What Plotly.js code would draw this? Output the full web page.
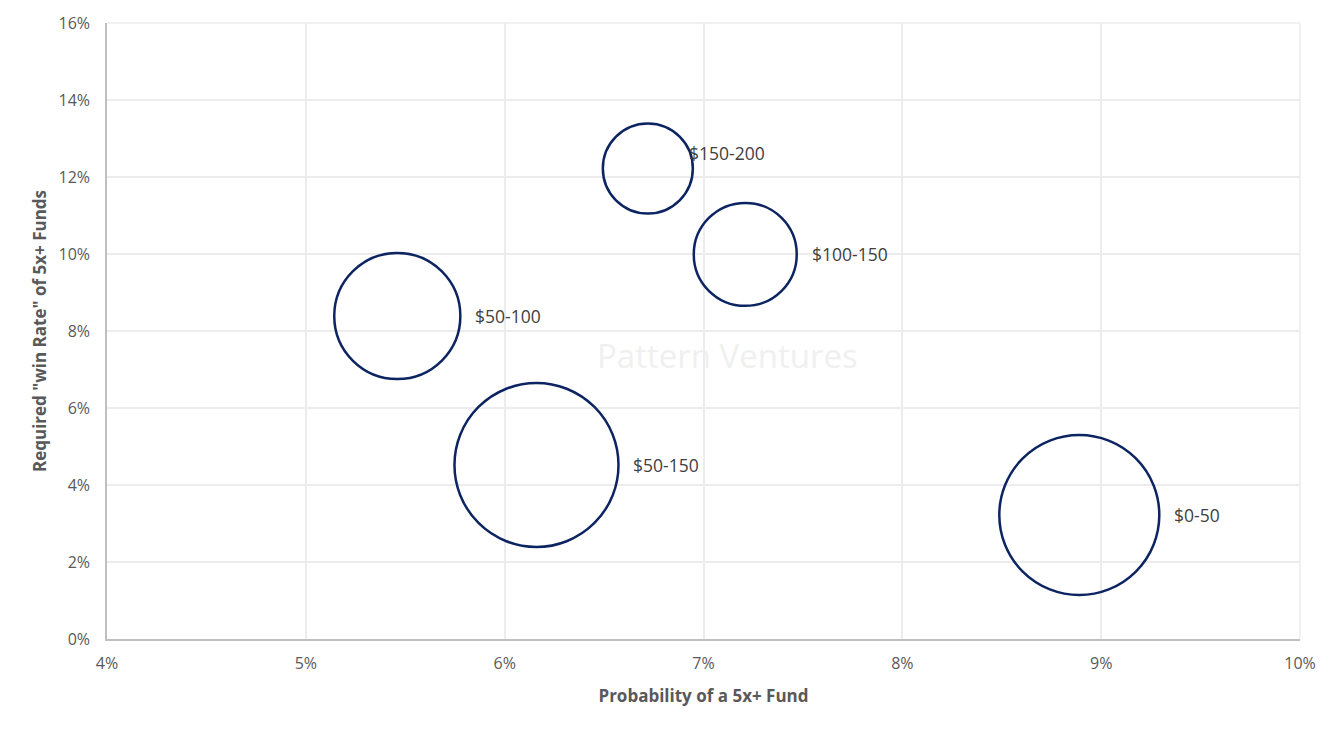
<!DOCTYPE html>
<html>
<head>
<meta charset="utf-8">
<script src="https://cdn.plot.ly/plotly-3.0.1.min.js"></script>
<style>
  html, body { margin: 0; padding: 0; background: #fff; }
  #chart { width: 1340px; height: 733px; }
</style>
</head>
<body>
<div id="chart"></div>
<script>
// fund size buckets ($M) and their values
const fundSizes = ["$0-50", "$50-100", "$50-150", "$100-150", "$150-200"];
const probability5x = [0.0889, 0.0546, 0.0616, 0.0721, 0.0672];   // x
const requiredWinRate = [0.0322, 0.0839, 0.0452, 0.0999, 0.1222]; // y
const bubbleSize = [256, 159, 269, 106, 81];                      // relative area

const SIZEREF = 0.02;
const navy = "#0c2461";

const trace = {
  x: probability5x,
  y: requiredWinRate,
  text: fundSizes,
  mode: "markers",
  type: "scatter",
  hoverinfo: "text",
  marker: {
    size: bubbleSize,
    sizemode: "area",
    sizeref: SIZEREF,
    opacity: 1,
    color: "rgba(255,255,255,0)",
    line: { color: navy, width: 2.5 }
  }
};

// data labels sit to the right of each bubble
const annotations = [];
for (let i = 0; i < fundSizes.length; i++) {
  // plotly area mode: diameter = sqrt(2 * size / sizeref)
  const radius = Math.sqrt(2 * bubbleSize[i] / SIZEREF) / 2;
  // the smallest bubble's label was nudged up and left in the original
  const small = fundSizes[i] == "$150-200";
  annotations.push({
    x: probability5x[i],
    y: requiredWinRate[i],
    text: fundSizes[i],
    showarrow: false,
    xanchor: "left",
    yanchor: "middle",
    xshift: small ? radius - 6 : radius + 13,
    yshift: small ? 16 : 0,
    font: { family: "Open Sans, sans-serif", size: 17.5, color: "#404040" }
  });
}

// watermark
annotations.push({
  x: 0.52, y: 0.46, xref: "paper", yref: "paper",
  text: "Pattern Ventures",
  showarrow: false,
  font: { family: "Open Sans, sans-serif", size: 33, color: "#f0f0f0" }
});

const layout = {
  width: 1340,
  height: 733,
  margin: { l: 107, r: 40, t: 23, b: 94 },
  paper_bgcolor: "#ffffff",
  plot_bgcolor: "#ffffff",
  showlegend: false,
  font: { family: "Open Sans, sans-serif", size: 16, color: "#595959" },
  xaxis: {
    range: [0.04, 0.10],
    dtick: 0.01,
    tickformat: ".0%",
    showgrid: true,
    gridcolor: "#ececec",
    gridwidth: 1.5,
    zeroline: false,
    showline: true,
    linecolor: "#bfbfbf",
    linewidth: 1.5,
    ticks: "",
    ticklabelstandoff: 9,
    tickfont: { size: 16, color: "#595959" },
    title: {
      text: "<b>Probability of a 5x+ Fund</b>",
      font: { size: 17, color: "#595959" },
      standoff: 17
    }
  },
  yaxis: {
    range: [0, 0.16],
    dtick: 0.02,
    tickformat: ".0%",
    showgrid: true,
    gridcolor: "#ececec",
    gridwidth: 1.5,
    zeroline: false,
    showline: true,
    linecolor: "#bfbfbf",
    linewidth: 1.5,
    ticks: "",
    ticklabelstandoff: 12,
    tickfont: { size: 16, color: "#595959" },
    title: {
      text: "<b>Required \"win Rate\" of 5x+ Funds</b>",
      font: { size: 17, color: "#595959" },
      standoff: 8
    }
  },
  shapes: [
    // right and top gridlines at the plot edge
    { type: "line", xref: "paper", yref: "paper", x0: 1, x1: 1, y0: 0, y1: 1,
      line: { color: "#ececec", width: 1.5 }, layer: "below" },
    { type: "line", xref: "paper", yref: "paper", x0: 0, x1: 1, y0: 1, y1: 1,
      line: { color: "#ececec", width: 1.5 }, layer: "below" }
  ],
  annotations: annotations
};

Plotly.newPlot(document.getElementById("chart"), [trace], layout, { displayModeBar: false });
</script>
</body>
</html>
